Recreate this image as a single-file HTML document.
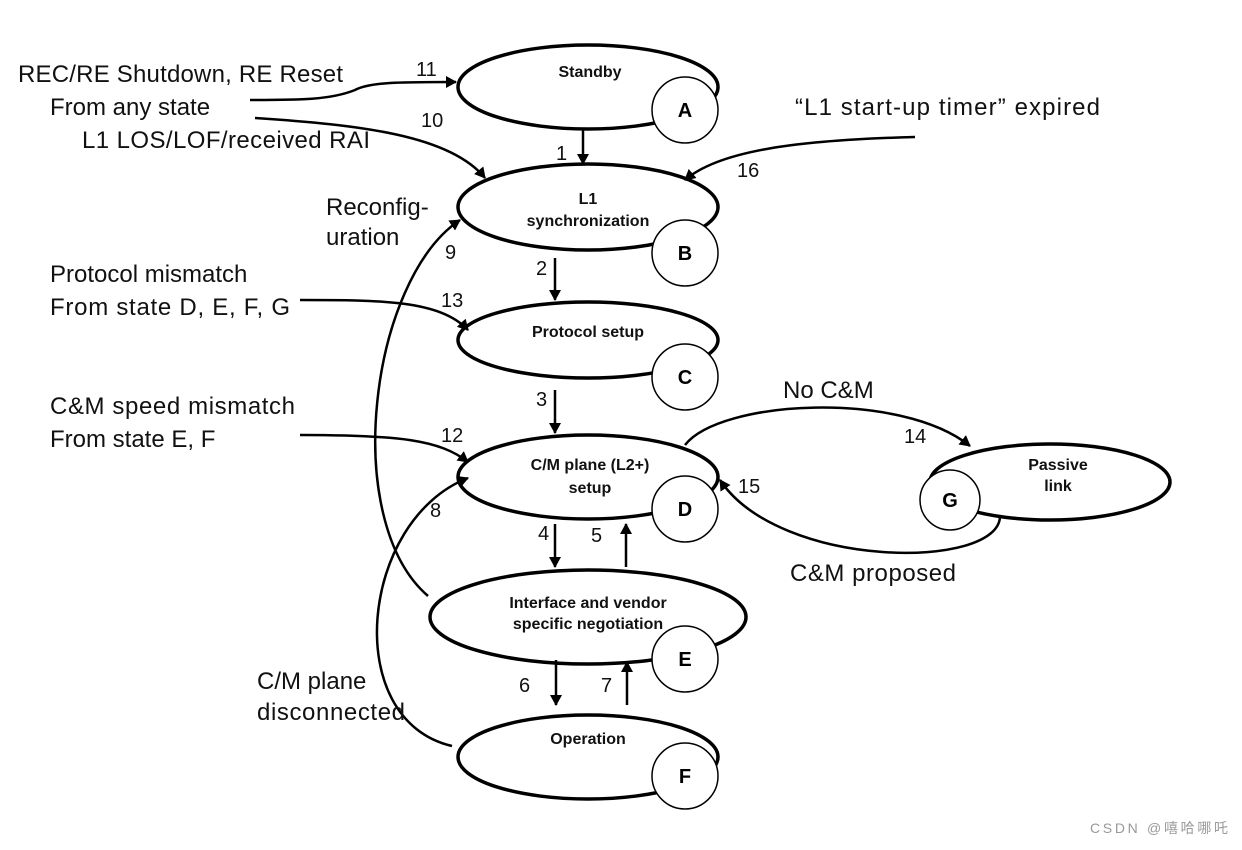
<!DOCTYPE html>
<html><head><meta charset="utf-8"><style>
body{margin:0;background:#fff}
svg text{font-family:"Liberation Sans",sans-serif}
.s{font-family:"DejaVu Sans",sans-serif;font-weight:bold;font-size:16px;fill:#111}
.l{font-size:24px;fill:#111}
.n{font-size:20px;fill:#111}
.c{font-size:20px;font-weight:bold;fill:#000}
</style></head><body>
<svg width="1242" height="845" viewBox="0 0 1242 845" xmlns="http://www.w3.org/2000/svg">
<defs><marker id="a" markerWidth="12" markerHeight="12" refX="10" refY="6" orient="auto" markerUnits="userSpaceOnUse"><path d="M0,0 L11,6 L0,12 z" fill="#000"/></marker></defs>
<g fill="none" stroke="#000" stroke-width="3.5">
<ellipse cx="588" cy="87" rx="130" ry="42"/>
<ellipse cx="588" cy="207" rx="130" ry="43"/>
<ellipse cx="588" cy="340" rx="130" ry="38"/>
<ellipse cx="588" cy="477" rx="130" ry="42"/>
<ellipse cx="588" cy="617" rx="158" ry="47"/>
<ellipse cx="588" cy="757" rx="130" ry="42"/>
<ellipse cx="1050" cy="482" rx="120" ry="38"/>
</g>
<g fill="#fff" stroke="#000" stroke-width="1.5">
<circle cx="685" cy="110" r="33"/><circle cx="685" cy="253" r="33"/><circle cx="685" cy="377" r="33"/>
<circle cx="685" cy="509" r="33"/><circle cx="685" cy="659" r="33"/><circle cx="685" cy="776" r="33"/>
<circle cx="950" cy="500" r="30"/>
</g>
<g fill="none" stroke="#000" stroke-width="2.5" marker-end="url(#a)">
<line x1="583" y1="130" x2="583" y2="164"/>
<line x1="555" y1="258" x2="555" y2="300"/>
<line x1="555" y1="390" x2="555" y2="433"/>
<line x1="555" y1="524" x2="555" y2="567"/>
<line x1="626" y1="567" x2="626" y2="524"/>
<line x1="556" y1="660" x2="556" y2="705"/>
<line x1="627" y1="705" x2="627" y2="662"/>
<path d="M250,100 C300,100 330,100 355,90 C370,82 400,82 456,82"/>
<path d="M255,118 C360,125 450,135 485,178"/>
<path d="M915,137 C800,140 720,150 685,180"/>
<path d="M300,300 C380,300 440,300 468,330"/>
<path d="M300,435 C400,435 440,440 468,462"/>
<path d="M428,596 C340,520 370,280 460,220"/>
<path d="M452,746 C340,720 360,520 468,478"/>
<path d="M685,445 C720,400 900,390 970,446"/>
<path d="M1000,516 C1000,570 780,570 720,480"/>
</g>
<g class="s" text-anchor="middle">
<text x="590" y="77">Standby</text>
<text x="588" y="204">L1</text><text x="588" y="226">synchronization</text>
<text x="588" y="337">Protocol setup</text>
<text x="590" y="470">C/M plane (L2+)</text><text x="590" y="493">setup</text>
<text x="588" y="608">Interface and vendor</text><text x="588" y="629">specific negotiation</text>
<text x="588" y="744">Operation</text>
<text x="1058" y="470">Passive</text><text x="1058" y="491">link</text>
</g>
<g class="c" text-anchor="middle">
<text x="685" y="117">A</text><text x="685" y="260">B</text><text x="685" y="384">C</text>
<text x="685" y="516">D</text><text x="685" y="666">E</text><text x="685" y="783">F</text><text x="950" y="507">G</text>
</g>
<g class="l">
<text x="18" y="82" textLength="325">REC/RE Shutdown, RE Reset</text>
<text x="50" y="115">From any state</text>
<text x="82" y="148" textLength="288">L1 LOS/LOF/received RAI</text>
<text x="795" y="115" textLength="305">“L1 start-up timer” expired</text>
<text x="326" y="215">Reconfig-</text><text x="326" y="245">uration</text>
<text x="50" y="282">Protocol mismatch</text>
<text x="50" y="315" textLength="240">From state D, E, F, G</text>
<text x="50" y="414" textLength="245">C&amp;M speed mismatch</text>
<text x="50" y="447">From state E, F</text>
<text x="783" y="398">No C&amp;M</text>
<text x="790" y="581" textLength="166">C&amp;M proposed</text>
<text x="257" y="689">C/M plane</text><text x="257" y="720" textLength="148">disconnected</text>
</g>
<g class="n">
<text x="416" y="76">11</text><text x="421" y="127">10</text><text x="556" y="160">1</text>
<text x="737" y="177">16</text><text x="445" y="259">9</text><text x="536" y="275">2</text>
<text x="441" y="307">13</text><text x="536" y="406">3</text><text x="441" y="442">12</text>
<text x="904" y="443">14</text><text x="738" y="493">15</text><text x="430" y="517">8</text>
<text x="538" y="540">4</text><text x="591" y="542">5</text><text x="519" y="692">6</text><text x="601" y="692">7</text>
</g>
<text x="1090" y="833" textLength="138" style="font-size:14px;fill:#999">CSDN @嘻哈哪吒</text>
</svg>
</body></html>
